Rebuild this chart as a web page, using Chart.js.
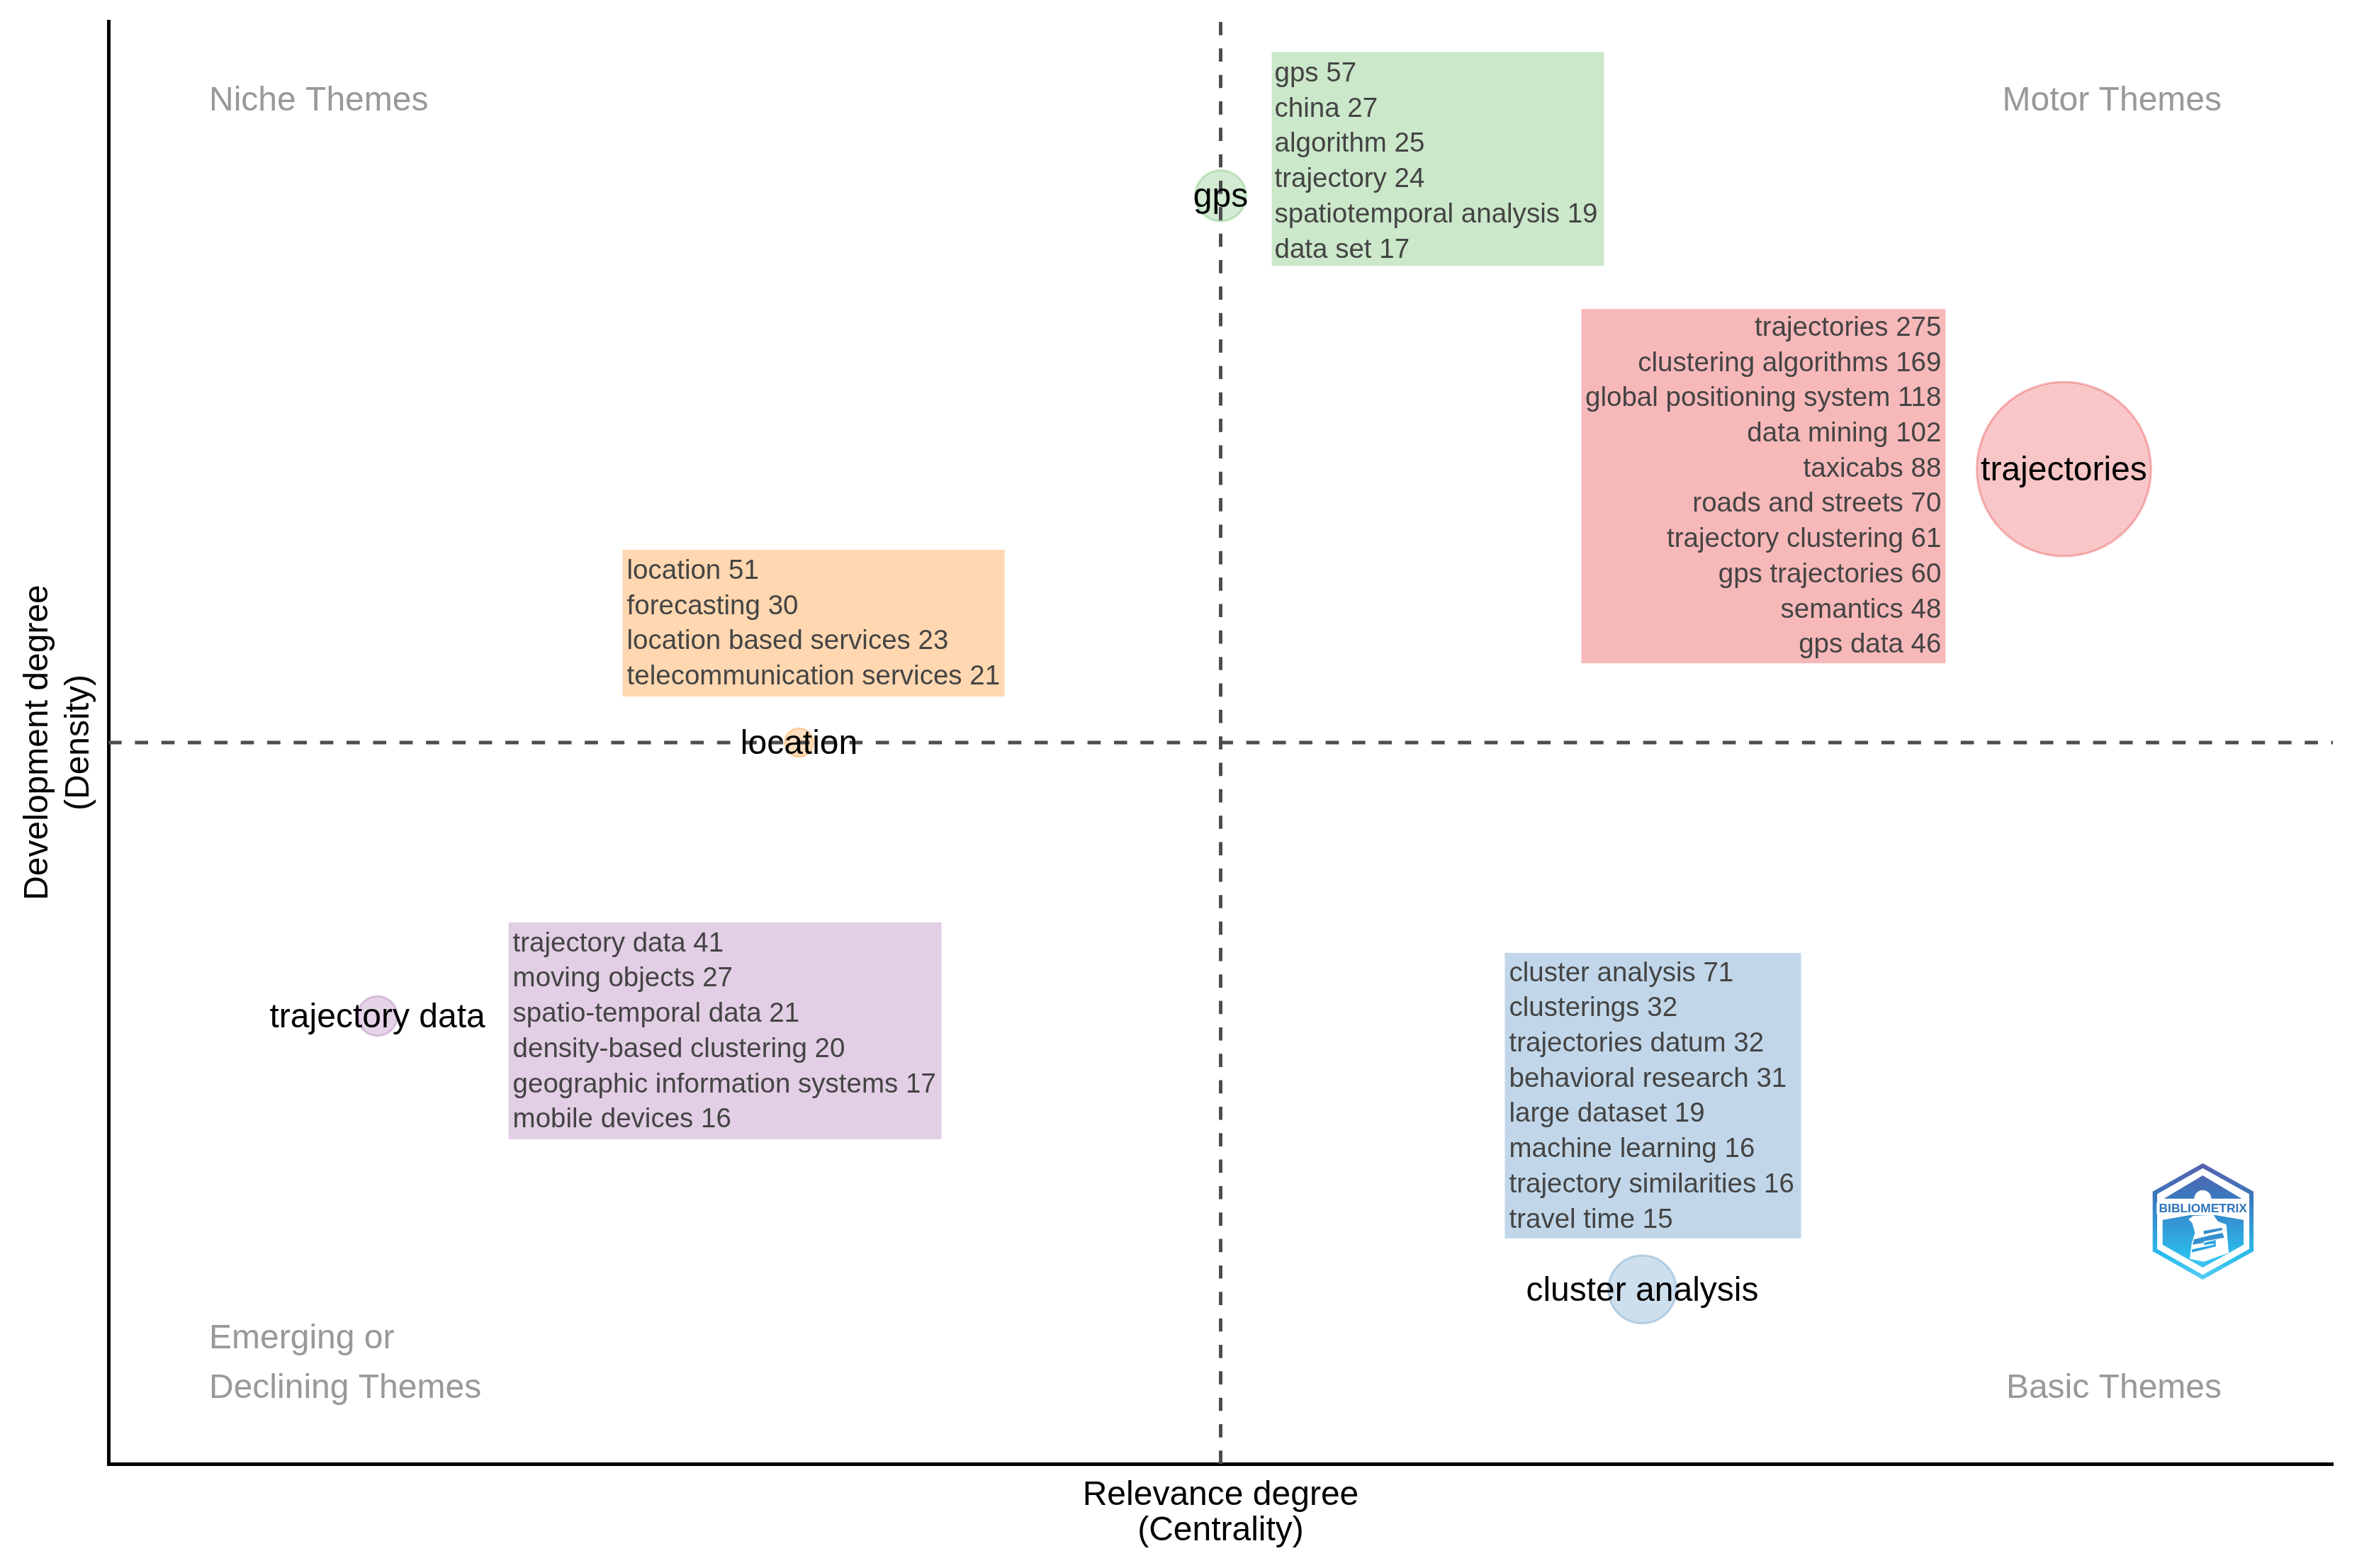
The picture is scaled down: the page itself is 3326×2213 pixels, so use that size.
<!DOCTYPE html>
<html>
<head>
<meta charset="utf-8">
<title>Thematic map</title>
<script src="https://cdn.jsdelivr.net/npm/chart.js@4"></script>
<style>
  body { margin: 0; background: #fff; }
  canvas { display: block; }
</style>
</head>
<body>
<canvas id="mapa" width="3326" height="2213"></canvas>
<script>
var clusters = ["trajectories", "gps", "location", "trajectory data", "cluster analysis"];
var centrality = [5, 3, 2, 1, 4];
var density = [4, 5, 3, 2, 1];
var bubbleSize = [123, 36, 20, 28, 48];

var wordsTrajectories = ["trajectories 275", "clustering algorithms 169", "global positioning system 118", "data mining 102", "taxicabs 88", "roads and streets 70", "trajectory clustering 61", "gps trajectories 60", "semantics 48", "gps data 46"];
var wordsGps = ["gps 57", "china 27", "algorithm 25", "trajectory 24", "spatiotemporal analysis 19", "data set 17"];
var wordsLocation = ["location 51", "forecasting 30", "location based services 23", "telecommunication services 21"];
var wordsTrajectoryData = ["trajectory data 41", "moving objects 27", "spatio-temporal data 21", "density-based clustering 20", "geographic information systems 17", "mobile devices 16"];
var wordsCluster = ["cluster analysis 71", "clusterings 32", "trajectories datum 32", "behavioral research 31", "large dataset 19", "machine learning 16", "trajectory similarities 16", "travel time 15"];

var axisMin = 0.362;
var axisMax = 5.638;
var meanRank = 3;

var rgb = ["228,26,28", "77,175,74", "255,127,0", "152,78,163", "55,126,184"];
var boxAlpha = [0.31, 0.29, 0.31, 0.28, 0.31];
var allWords = [wordsTrajectories, wordsGps, wordsLocation, wordsTrajectoryData, wordsCluster];
// box offset from its bubble centre: left, top, width, height, text alignment, text left inset, first line
var boxes = [
  [-681, -226, 514, 500, "right", 6, 27],
  [72, -203, 469, 302, "left", 4, 31],
  [-249, -272, 539, 207, "left", 6, 30],
  [185, -132, 611, 306, "left", 6, 30],
  [-194, -475, 418, 403, "left", 6, 29]
];
var FONT = '"Liberation Sans", Arial, sans-serif';

var quadrantes = {
  id: "quadrantes",
  beforeDatasetsDraw: function (chart) {
    var ctx = chart.ctx;
    ctx.save();
    ctx.font = "48px " + FONT;
    ctx.fillStyle = "#999999";
    ctx.textBaseline = "middle";
    ctx.textAlign = "left";
    ctx.fillText("Niche Themes", 295, 143);
    ctx.fillText("Emerging or", 295, 1890);
    ctx.fillText("Declining Themes", 295, 1960);
    ctx.textAlign = "right";
    ctx.fillText("Motor Themes", 3135, 143);
    ctx.fillText("Basic Themes", 3135, 1960);
    ctx.restore();
  }
};

var caixas = {
  id: "caixas",
  afterDatasetsDraw: function (chart) {
    var ctx = chart.ctx;
    var sx = chart.scales.x;
    var sy = chart.scales.y;
    ctx.save();
    clusters.forEach(function (nome, i) {
      var cx = sx.getPixelForValue(centrality[i]);
      var cy = sy.getPixelForValue(density[i]);
      var b = boxes[i];
      var left = cx + b[0];
      var top = cy + b[1];
      ctx.fillStyle = "rgba(" + rgb[i] + "," + boxAlpha[i] + ")";
      ctx.fillRect(left, top, b[2], b[3]);

      ctx.font = "39.5px " + FONT;
      ctx.fillStyle = "#444444";
      ctx.textBaseline = "middle";
      ctx.textAlign = b[4];
      var tx = b[4] == "right" ? left + b[2] - b[5] : left + b[5];
      allWords[i].forEach(function (w, k) {
        var largura = ctx.measureText(w).width * 0.975;
        ctx.fillText(w, tx, top + b[6] + k * 49.7, largura);
      });

      ctx.font = "48px " + FONT;
      ctx.fillStyle = "#000000";
      ctx.textAlign = "center";
      ctx.fillText(nome, cx, cy + 3);
    });
    ctx.restore();
    desenharLogo(ctx);
  }
};

// logo drawn in the coordinates of a 3x crop
function desenharLogo(ctx) {
  function poli(p, cor) {
    ctx.beginPath();
    ctx.moveTo(p[0][0], p[0][1]);
    for (var i = 1; i < p.length; i++) ctx.lineTo(p[i][0], p[i][1]);
    ctx.closePath();
    ctx.fillStyle = cor;
    ctx.fill();
  }
  ctx.save();
  ctx.translate(2950, 1600);
  ctx.scale(1 / 3, 1 / 3);
  var g = ctx.createLinearGradient(0, 125, 0, 618);
  g.addColorStop(0, "#5a5fae");
  g.addColorStop(0.3, "#3a79be");
  g.addColorStop(0.8, "#2bbdee");
  g.addColorStop(1, "#55cdf2");
  poli([[475, 125], [690, 245], [690, 498], [475, 618], [263, 498], [263, 245]], g);
  poli([[475, 146], [672, 256], [672, 488], [475, 598], [282, 488], [282, 256]], "#ffffff");
  poli([[475, 177], [640, 275], [310, 275]], g);
  poli([[305, 365], [420, 345], [530, 345], [648, 365], [648, 470], [475, 567], [305, 470]], g);
  // lighthouse
  ctx.fillStyle = "#ffffff";
  ctx.beginPath();
  ctx.arc(475, 275, 36, 0, Math.PI * 2);
  ctx.fill();
  poli([[463, 240], [487, 240], [490, 256], [460, 256]], "#ffffff");
  poli([[415, 362], [435, 348], [520, 344], [540, 372], [575, 385], [585, 505], [480, 542], [420, 530], [428, 465], [442, 420], [430, 378]], "#ffffff");
  poli([[478, 412], [555, 398], [560, 408], [480, 426]], "#3590cf");
  poli([[438, 448], [500, 432], [558, 420], [566, 440], [480, 456], [478, 462], [432, 470]], "#3590cf");
  poli([[428, 503], [530, 478], [530, 450], [480, 462], [480, 472], [520, 466], [522, 470], [430, 490]], "#2fa5df");
  ctx.fillStyle = "#ffffff";
  ctx.fillRect(280, 292, 392, 50);
  ctx.font = "bold 52px " + FONT;
  ctx.fillStyle = "#2f74bd";
  ctx.textAlign = "center";
  ctx.textBaseline = "middle";
  ctx.fillText("BIBLIOMETRIX", 476, 320, 384);
  ctx.restore();
}

var bolhas = clusters.map(function (nome, i) {
  return { x: centrality[i], y: density[i], r: bubbleSize[i] };
});

new Chart(document.getElementById("mapa"), {
  type: "bubble",
  data: {
    datasets: [
      {
        type: "scatter",
        showLine: true,
        order: 1,
        data: [{ x: meanRank, y: axisMin }, { x: meanRank, y: axisMax }],
        borderColor: "#4d4d4d",
        borderWidth: 5,
        borderDash: [18.67, 18.67],
        pointRadius: 0
      },
      {
        type: "scatter",
        showLine: true,
        order: 1,
        data: [{ x: axisMin, y: meanRank }, { x: axisMax, y: meanRank }],
        borderColor: "#4d4d4d",
        borderWidth: 5,
        borderDash: [18.67, 18.67],
        pointRadius: 0
      },
      {
        order: 2,
        data: bolhas,
        backgroundColor: rgb.map(function (c) { return "rgba(" + c + ",0.25)"; }),
        borderColor: rgb.map(function (c) { return "rgba(" + c + ",0.28)"; }),
        borderWidth: 3
      }
    ]
  },
  options: {
    responsive: false,
    animation: false,
    layout: { autoPadding: false, padding: { top: 30, right: 34, left: 0, bottom: 0 } },
    plugins: { legend: { display: false }, tooltip: { enabled: false } },
    scales: {
      x: {
        type: "linear",
        min: axisMin,
        max: axisMax,
        grid: { display: false },
        border: { display: true, color: "#000000", width: 5 },
        ticks: { display: false },
        title: {
          display: true,
          text: ["Relevance degree", "(Centrality)"],
          color: "#000000",
          font: { family: "Liberation Sans", size: 48, lineHeight: 1.04 },
          padding: { top: 17, bottom: 27 }
        },
        afterFit: function (scale) { scale.height = 147; }
      },
      y: {
        type: "linear",
        min: axisMin,
        max: axisMax,
        grid: { display: false },
        border: { display: true, color: "#000000", width: 5 },
        ticks: { display: false },
        title: {
          display: true,
          text: ["Development degree", "(Density)"],
          color: "#000000",
          font: { family: "Liberation Sans", size: 48, lineHeight: 1.2 },
          padding: { top: 25, bottom: 0 }
        },
        afterFit: function (scale) { scale.width = 153; }
      }
    }
  },
  plugins: [quadrantes, caixas]
});
</script>
</body>
</html>
